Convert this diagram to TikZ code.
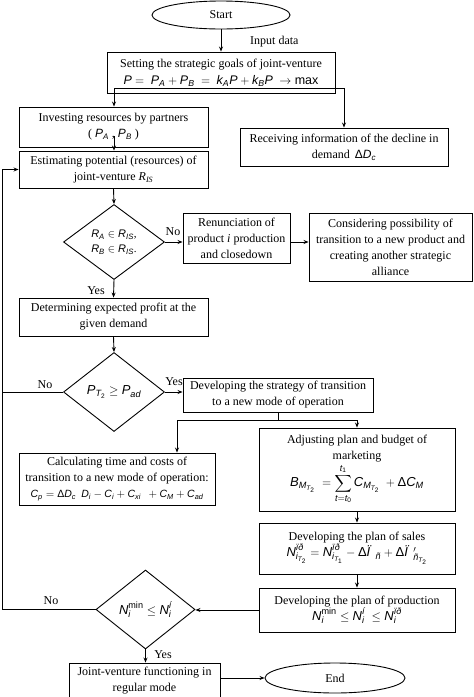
\documentclass[tikz,border=0pt]{standalone}
\usepackage{fontspec}
\usepackage{amsmath}
\setmainfont{Liberation Serif}
\newfontfamily\sansf{Liberation Sans}
\usetikzlibrary{shapes.geometric,arrows.meta}
\newcommand\mv[1]{\text{\sansf\itshape #1}}
\newcommand\mr[1]{\text{\sansf #1}}
\tikzset{
  box/.style={draw, line width=0.9pt, align=center, inner sep=0pt, font=\fontsize{12}{16}\selectfont},
  dia/.style={draw, diamond, line width=0.9pt, inner sep=0pt},
  ell/.style={draw, ellipse, line width=0.9pt, inner sep=0pt, font=\fontsize{12}{14}\selectfont},
  arr/.style={-{Stealth[length=5pt,width=4pt]}, line width=0.9pt},
  ln/.style={line width=0.9pt},
  lbl/.style={inner sep=0pt, font=\fontsize{12}{14}\selectfont},
  dtext/.style={align=center, inner sep=0pt, font=\fontsize{12}{15}\selectfont}
}
\begin{document}
\begin{tikzpicture}[x=1pt,y=-1pt]
\useasboundingbox (0,0) rectangle (474,697);
% nodes
\node[ell, minimum width=138pt, minimum height=28pt] (start) at (221,15) {Start};
\node[box, minimum width=228pt, minimum height=41pt] (b1) at (221,72.5)
  {Setting the strategic goals of joint-venture\\[1pt]
   {\fontsize{12.5}{15}\selectfont$\mv{P} = \ \mv{P}_{\mv{A}} + \mv{P}_{\mv{B}} \ = \ \mv{k}_{\mv{A}}\mv{P} + \mv{k}_{\mv{B}}\mv{P} \ \to \mr{max}$}};
\node[lbl, anchor=west] (inlbl) at (250,42) {Input data};
\node[box, minimum width=189pt, minimum height=40pt] (b2) at (113.5,127)
  {Investing resources by partners\\( $\mv{P}_{\mv{A}}$ , $\mv{P}_{\mv{B}}$ )};
\node[box, minimum width=189pt, minimum height=37pt] (b3) at (113.5,169.5)
  {Estimating potential (resources) of\\joint-venture \textit{R}\textsubscript{\textit{IS}}};
\node[box, minimum width=208pt, minimum height=38pt] (recv) at (344,147)
  {Receiving information of the decline in\\demand \,$\mr{Δ}\mv{D}_{\mv{c}}$};
\node[dia, minimum width=101pt, minimum height=75pt] (d1) at (114,242) {};
\node[dtext, font=\fontsize{11}{15}\selectfont] (d1t) at (d1.center)
  {$\mv{R}_{\mv{A}} \in \mv{R}_{\mv{IS}}$,\\$\mv{R}_{\mv{B}} \in \mv{R}_{\mv{IS}}$.};
\node[box, minimum width=107pt, minimum height=50pt] (ren) at (236.5,238)
  {Renunciation of\\product \textit{i} production\\and closedown};
\node[box, minimum width=163pt, minimum height=68pt] (cons) at (390.5,247)
  {Considering possibility of\\transition to a new product and\\creating another strategic\\alliance};
\node[box, minimum width=189pt, minimum height=38pt] (det) at (113.5,317)
  {Determining expected profit at the\\given demand};
\node[dia, minimum width=101pt, minimum height=79pt] (d2) at (114,392) {};
\node[dtext, font=\fontsize{13}{15}\selectfont] (d2t) at (d2.center) {$\mv{P}_{\mv{T}_{\mr{2}}} \ge \mv{P}_{\mv{ad}}$};
\node[box, minimum width=190pt, minimum height=34pt] (dev) at (278,395)
  {Developing the strategy of transition\\to a new mode of operation};
\node[box, minimum width=196pt, minimum height=83pt] (adj) at (357,469.5)
  {Adjusting plan and budget of\\marketing\\[1pt]
   {\fontsize{13}{15}\selectfont$\displaystyle \mv{B}_{\mv{M}_{\mv{T}_{\mr{2}}}} \ = \sum_{\mv{t}=\mv{t}_{\mr{0}}}^{\mv{t}_{\mr{1}}} \mv{C}_{\mv{M}_{\mv{T}_{\mr{2}}}} \ + \mr{Δ}\mv{C}_{\mv{M}}$}};
\node[box, minimum width=196pt, minimum height=52pt] (calc) at (117,479)
  {Calculating time and costs of\\transition to a new mode of operation:\\
   {\fontsize{10.5}{12}\selectfont $\mv{C}_{\mv{p}} = \mr{Δ}\mv{D}_{\mv{c}}\ \ \mv{D}_{\mv{i}} - \mv{C}_{\mv{i}} + \mv{C}_{\mv{xi}}\ \ + \mv{C}_{\mv{M}} + \mv{C}_{\mv{ad}}$}};
\node[box, minimum width=196pt, minimum height=51pt] (sales) at (357,548.5)
  {Developing the plan of sales\\
   {\fontsize{13}{15}\selectfont$\mv{N}^{\mv{ïð}}_{\mv{i}_{\mv{T}_{\mr{2}}}} = \mv{N}^{\mv{ïð}}_{\mv{i}_{\mv{T}_{\mr{1}}}} - \mr{Δ}\mv{Ï}\;\,{}_{\mv{ñ}} + \mr{Δ}\mv{Ï}\;\,{}^{\prime}_{\mv{ñ}_{\mv{T}_{\mr{2}}}}$}};
\node[box, minimum width=196pt, minimum height=44pt] (prod) at (357,610)
  {Developing the plan of production\\
   {\fontsize{13}{15}\selectfont$\mv{N}^{\mr{min}}_{\mv{i}} \le \mv{N}^{\mv{í}}_{\mv{i}} \ \le \mv{N}^{\mv{ïð}}_{\mv{i}}$}};
\node[dia, minimum width=99pt, minimum height=79pt] (d3) at (145.5,609.5) {};
\node[dtext, font=\fontsize{13}{15}\selectfont] (d3t) at (d3.center) {$\mv{N}^{\mr{min}}_{\mv{i}} \le \mv{N}^{\mv{í}}_{\mv{i}}$};
\node[box, minimum width=151pt, minimum height=36pt] (jv) at (144.5,681)
  {Joint-venture functioning in\\regular mode};
\node[ell, minimum width=140pt, minimum height=30pt] (end) at (335,678) {End};
% labels
\node[lbl] (no1) at (173,232) {No};
\node[lbl] (yes1) at (96,291) {Yes};
\node[lbl] (no2) at (45,385) {No};
\node[lbl] (yes2) at (174,382) {Yes};
\node[lbl] (no3) at (51,601) {No};
\node[lbl] (yes3) at (163,655) {Yes};
% connectors
\draw[arr] (start.south) -- (b1.north);
\coordinate (s1) at (114,88);
\coordinate (s2) at (344,88);
\draw[ln] (s1) -- (s2);
\draw[arr] (s1) -- (s1 |- b2.north);
\draw[arr] (s2) -- (s2 |- recv.north);
\coordinate (s3) at (114,136);
\draw[arr] (s3) -- (s3 |- b3.north);
\draw[arr] (b3.south) -- (d1.north);
\draw[arr] (d1.east) -- (d1.east -| ren.west);
\draw[arr] (d1.east -| ren.east) -- (d1.east -| cons.west);
\draw[arr] (d1.south) -- (det.north);
\draw[arr] (det.south) -- (d2.north);
\draw[arr] (d2.east) -- (d2.east -| dev.west);
\coordinate (s4) at (278,420);
\coordinate (s5) at (177,420);
\coordinate (s6) at (357,420);
\draw[ln] (dev.south) -- (s4);
\draw[ln] (s5) -- (s6);
\draw[arr] (s5) -- (s5 |- calc.north);
\draw[arr] (s6) -- (adj.north);
\draw[arr] (adj.south) -- (sales.north);
\draw[arr] (sales.south) -- (prod.north);
\draw[arr] (prod.west) -- (prod.west -| d3.east);
\draw[arr] (d3.south) -- (d3.south |- jv.north);
\draw[arr] (end.west -| jv.east) -- (end.west);
\coordinate (lb) at (2,609.5);
\draw[ln] (d2.west) -- (2,392);
\draw[arr] (d3.west) -- (lb) |- (b3.west);
\end{tikzpicture}
\end{document}
